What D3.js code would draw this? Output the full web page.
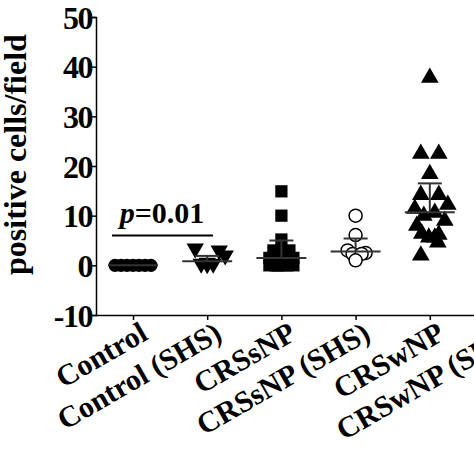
<!DOCTYPE html><html><head><meta charset="utf-8"><script src="https://cdn.jsdelivr.net/npm/d3@7"></script>
<style>body{margin:0;background:#fff}text{font-family:"Liberation Serif","Times New Roman",serif;font-weight:bold}</style></head><body>
<svg id="c" width="474" height="474"></svg>
<script>
const categories=["Control","Control (SHS)","CRSsNP","CRSsNP (SHS)","CRSwNP","CRSwNP (SHS)"];
const yTicks=[-10,0,10,20,30,40,50];
const controlVals=[0,0,0,0,0,0,0];
const controlShsVals=[3.4,3.0,2.0,0.3,0.2,0.3,0.5];
const crssnpVals=[14.9,10,5.2,3,3,3,1.5,1.5,1.5,1.5,1.5,0,0,0,0,0,0];
const crssnpShsVals=[10,6.1,3,2.5,2.3,2.3,1];
const crswnpVals=[37.8,22.5,22.5,18.4,14.2,14.2,12.2,11.4,10.6,10,9,8,6.4,6.2,5.6,5.6,4.6,2];
const offsets={0:[-18,-12,-6,0,6,12,18],1:[-12,12,18,-6,0,6,0],2:[0,0,0,-8,0,8,-12,-6,0,6,12,-12,-6,0,6,12,-3],3:[0,0,-8,10,-3,6,0],4:[0,-9,9,0,-9,9,18,-15,5,-6,15,-13,-8,9,-1,5,8,-9]};
const stats=[{m:0,sd:0},{m:0.8,sd:1.1},{m:1.5,sd:3.5},{m:2.8,sd:2.6},{m:10.7,sd:5.8}];
const groups=[controlVals,controlShsVals,crssnpVals,crssnpShsVals,crswnpVals];
const shapes=[d3.symbolCircle,"tri-down",d3.symbolSquare,"circle-open",d3.symbolTriangle];
const svg=d3.select("#c");
const y=d3.scaleLinear().domain([-10,50]).range([315,17]);
const x=d3.scalePoint().domain(categories).range([133,504]);
const ya=svg.append("g").attr("transform","translate(96,0)").call(d3.axisLeft(y).tickValues(yTicks).tickSize(5).tickFormat(d=>d<0?"-"+(-d):""+d));
ya.selectAll("text").style("font-size","32px").attr("x",-4).attr("dy","0.35em").style("letter-spacing","-1.5px");
const xa=svg.append("g").attr("transform","translate(0,315)").call(d3.axisBottom(x).tickSize(5).tickSizeOuter(0));
xa.select(".domain").attr("d","M96,0.5H474");
svg.selectAll(".domain,.tick line").attr("stroke","#000").attr("stroke-width",1.5);
xa.selectAll("text").style("font-size","30px").attr("text-anchor","end").attr("transform","rotate(-30)").attr("x",2).attr("y",18).attr("dy","0.35em");
svg.append("text").attr("transform","translate(26,275) rotate(-90)").attr("text-anchor","start").style("font-size","32px").text("positive cells/field");
groups.forEach((vals,gi)=>{
  const cx=x(categories[gi]);
  vals.forEach((v,i)=>{
    const px=cx+(offsets[gi][i]||0), py=y(v);
    const sh=shapes[gi];
    if(sh==="tri-down"){svg.append("path").attr("d",d3.symbol(d3.symbolTriangle,130)()).attr("transform",`translate(${px},${py}) rotate(180)`).attr("fill","#000");}
    else if(sh==="circle-open"){svg.append("circle").attr("cx",px).attr("cy",py).attr("r",6.5).attr("fill","#fff").attr("stroke","#000").attr("stroke-width",1.5);}
    else svg.append("path").attr("d",d3.symbol(sh,sh===d3.symbolSquare?150:135)()).attr("transform",`translate(${px},${py})`).attr("fill","#000");
  });
  const s=stats[gi];
  svg.append("line").attr("x1",cx-25).attr("x2",cx+25).attr("y1",y(s.m)).attr("y2",y(s.m)).attr("stroke","#333").attr("stroke-width",2);
  if(s.sd>0){
    svg.append("line").attr("x1",cx).attr("x2",cx).attr("y1",y(s.m)).attr("y2",y(s.m+s.sd)).attr("stroke","#333").attr("stroke-width",2);
    svg.append("line").attr("x1",cx-12).attr("x2",cx+12).attr("y1",y(s.m+s.sd)).attr("y2",y(s.m+s.sd)).attr("stroke","#333").attr("stroke-width",2);
  }
});
svg.append("line").attr("x1",112).attr("x2",213).attr("y1",y(6)).attr("y2",y(6)).attr("stroke","#000").attr("stroke-width",2);
const pt=svg.append("text").attr("x",162).attr("y",y(8.5)).attr("text-anchor","middle").style("font-size","30px");
pt.append("tspan").style("font-style","italic").text("p");
pt.append("tspan").text("=0.01");
</script></body></html>
